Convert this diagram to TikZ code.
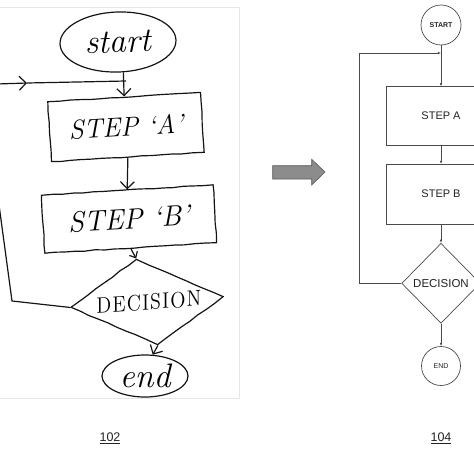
\documentclass[tikz,border=0pt]{standalone}
\usepackage{fontspec}
\usepackage{xcolor}
\usepackage{tikz}
\usetikzlibrary{arrows.meta,positioning,shapes.geometric,decorations.pathmorphing}
\newfontfamily\chartfont{Liberation Sans}
\definecolor{CLine}{HTML}{4A4A4A}
\definecolor{CText}{HTML}{222222}
\definecolor{CInk}{HTML}{141414}
\definecolor{CPage}{HTML}{E6E6E6}
\definecolor{CBlock}{HTML}{8C8C8C}
\definecolor{CBlockEdge}{HTML}{5A5A5A}

\begin{document}
\begin{tikzpicture}[x=1pt,y=-1pt,
  % clean chart
  box/.style={draw=CLine,line width=0.7pt,rectangle,minimum width=108.6pt,
    minimum height=59pt,inner sep=0pt,text=CText,font=\chartfont\fontsize{11}{11}\selectfont},
  term/.style={draw=CLine,line width=0.7pt,circle,inner sep=0pt,text=CText},
  decide/.style={draw=CLine,line width=0.7pt,diamond,minimum width=78.6pt,
    minimum height=80pt,inner sep=0pt,text=CText,font=\chartfont\fontsize{11.5}{11.5}\selectfont},
  flow/.style={draw=CLine,line width=0.7pt,-{Latex[length=3.2pt,width=2.6pt]}},
  % hand sketch
  ink/.style={draw=CInk,line width=1.2pt},
  sk/.style={ink,decorate,
    decoration={random steps,segment length=10pt,amplitude=0.45pt}},
  skbox/.style={sk,rectangle,inner sep=0pt,font=\fontsize{27}{27}\selectfont\itshape},
  skoval/.style={ink,ellipse,inner sep=0pt,font=\fontsize{34}{34}\selectfont\itshape},
  skarrow/.style={ink,-{Straight Barb[length=7pt,width=14pt,line width=1.2pt]}},
  numlabel/.style={text=CText,font=\chartfont\fontsize{12.5}{12.5}\selectfont}
]
\useasboundingbox (0,0) rectangle (474,474);
\clip (0,0) rectangle (474,474);
\pgfmathsetseed{11}

% photo of the sketch
\draw[CPage,line width=0.8pt] (-2,7) rectangle (239,398);

\node[skoval,minimum width=116pt,minimum height=60pt,rotate=2] (sstart) at (118,42) {start};
\node[skbox,minimum width=153pt,minimum height=60pt,rotate=3.5] (sstepA) at (126,127) {STEP `A'};
\node[skbox,minimum width=172pt,minimum height=58pt,rotate=3.5,
  font=\fontsize{29}{29}\selectfont\itshape] (sstepB) at (129,219) {STEP `B'};
\node[sk,diamond,aspect=1.8,inner sep=0pt,minimum width=155pt,minimum height=86pt,
  xslant=-0.18,rotate=4,font=\fontsize{22}{22}\selectfont\itshape] (sdec) at (147,302) {DECISION};
\node[skoval,minimum width=86pt,minimum height=42pt] (send) at (145,376) {end};

\coordinate (sjoin) at (126,81);
\coordinate (schev) at (27,83);
\coordinate (sl1) at (12,301);
\coordinate (sl2) at (-3,190);
\coordinate (sl3) at (-3,84);

\draw[skarrow] (sstart.-82) -- (sstepA.north);
\draw[skarrow] (sstepA.south) -- (sstepB.north);
\draw[ink,-{Straight Barb[length=5pt,width=9pt,line width=1.2pt]}] (sstepB.south) -- (sdec.north);
\draw[skarrow] (sdec.south) -- (send.70);
\draw[skarrow] (sdec.west) -- (sl1) -- (sl2) -- (sl3) -- (schev);
\draw[ink] (schev) -- (sjoin);

\node[numlabel] (lab102) at (110,438) {\underline{102}};

% block arrow
\filldraw[fill=CBlock,draw=CBlockEdge,line width=0.6pt]
  (272.7,165.7) -- (311.7,165.7) -- (311.7,159.3) -- (325,172)
  -- (311.7,185) -- (311.7,179) -- (272.7,179) -- cycle;

% clean chart
\node[term,minimum size=40pt,font=\chartfont\bfseries\fontsize{7}{7}\selectfont] (start) at (441,25) {START};
\node[box] (stepA) at (441,116.2) {STEP A};
\node[box,minimum height=59.7pt] (stepB) at (441,194.2) {STEP B};
\node[decide] (dec) at (441,283.3) {DECISION};
\node[term,minimum size=39pt,font=\chartfont\fontsize{7}{7}\selectfont] (end) at (441,366) {END};

\coordinate (join) at (441,53);
\coordinate (loopc) at (359.3,53);

\draw[flow] (start) -- (stepA);
\draw[flow] (stepA) -- (stepB);
\draw[flow] (stepB) -- (dec);
\draw[flow] (dec) -- (end);
\draw[flow] (dec.west) -| (loopc) -- (join);

\node[numlabel] (lab104) at (441,438) {\underline{104}};
\end{tikzpicture}
\end{document}
